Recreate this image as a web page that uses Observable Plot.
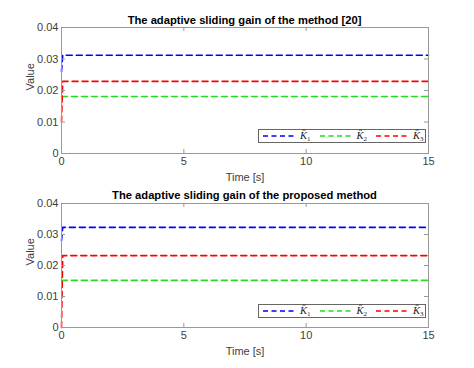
<!DOCTYPE html>
<html>
<head>
<meta charset="utf-8">
<script src="https://cdn.jsdelivr.net/npm/d3@7"></script>
<script src="https://cdn.jsdelivr.net/npm/@observablehq/plot@0.6"></script>
<style>
  body { margin: 0; background: #fff; font-family: "Liberation Sans", Arial, sans-serif; }
  #wrap { position: relative; width: 474px; height: 368px; }
  .panel { position: absolute; left: 0; width: 474px; }
  .title { position: absolute; left: 61px; width: 367px; text-align: center; font-weight: bold; font-size: 11.2px; color: #000; white-space: nowrap; }
  .legend { position: absolute; border: 1px solid #666; background: #fff; height: 14px; display: flex; align-items: center; font-family: "Liberation Serif", "DejaVu Serif", serif; font-style: italic; font-size: 10.5px; color: #222; padding: 0 3px; box-sizing: border-box; }
  .legend .item { display: flex; align-items: center; }
  .legend svg { margin-right: 2px; }
  .legend sub { font-style: normal; font-size: 7px; vertical-align: -2px; }
</style>
</head>
<body>
<div id="wrap"></div>
<script>
// ---- data ----
const seriesNames = ["K1", "K2", "K3"];
const seriesColors = ["#0000ff", "#22dd22", "#ff0000"];
const time = [0, 0.05, 15];

// top panel: method [20]
const topK1 = [0.026, 0.0312, 0.0312];
const topK2 = [0.018, 0.0181, 0.0181];
const topK3 = [0.010, 0.0229, 0.0229];

// bottom panel: proposed method
const botK1 = [0.028, 0.0323, 0.0323];
const botK2 = [0.015, 0.0152, 0.0152];
const botK3 = [0.000, 0.0232, 0.0232];

const xTicks = [0, 5, 10, 15];
const yTicks = [0, 0.01, 0.02, 0.03, 0.04];
const yTickLabels = ["0", "0.01", "0.02", "0.03", "0.04"];

const titles = ["The adaptive sliding gain of the method [20]", "The adaptive sliding gain of the proposed method"];

function rows(series) {
  const out = [];
  series.forEach((vals, si) => vals.forEach((v, i) => out.push({t: time[i], v, s: seriesNames[si]})));
  return out;
}

function panel(series, top, marginTop, marginBottom, titleTop, legendTop, title) {
  const W = 474, H = 184;
  const ml = 61, mr = 46;
  const pw = W - ml - mr, ph = H - marginTop - marginBottom;
  const data = rows(series);
  const axisColor = "#999";
  const textColor = "#404040";
  const plot = Plot.plot({
    width: W, height: H,
    marginLeft: ml, marginRight: mr, marginTop, marginBottom,
    style: {fontFamily: "Liberation Sans, Arial, sans-serif", fontSize: "11px", color: textColor, background: "transparent"},
    x: {domain: [0, 15]},
    y: {domain: [0, 0.04]},
    color: {domain: seriesNames, range: seriesColors},
    marks: [
      Plot.line(data, {x: "t", y: "v", z: "s", stroke: "s", strokeWidth: 1.6, strokeDasharray: "6,4", curve: "linear"}),
      Plot.frame({stroke: axisColor, strokeWidth: 1}),
      // inward ticks
      Plot.tickX(xTicks, {x: d => d, stroke: axisColor, insetTop: ph - 4}),
      Plot.tickX(xTicks, {x: d => d, stroke: axisColor, insetBottom: ph - 4}),
      Plot.tickY(yTicks, {y: d => d, stroke: axisColor, insetRight: pw - 4}),
      Plot.tickY(yTicks, {y: d => d, stroke: axisColor, insetLeft: pw - 4}),
      Plot.axisX(xTicks, {tickSize: 0, tickPadding: 4, fill: textColor, fontSize: 11, label: null}),
      Plot.axisY(yTicks, {tickSize: 0, tickPadding: 3, fill: textColor, fontSize: 11, label: null, tickFormat: (d) => yTickLabels[yTicks.indexOf(d)]}),
      Plot.text(["Time [s]"], {frameAnchor: "bottom", dy: 27, fill: textColor, fontSize: 11, text: d => d}),
      Plot.text(["Value"], {frameAnchor: "left", dx: -31, rotate: -90, fill: textColor, fontSize: 11, text: d => d})
    ]
  });
  const div = document.createElement("div");
  div.className = "panel";
  div.style.top = top + "px";
  div.appendChild(plot);
  const t = document.createElement("div");
  t.className = "title";
  t.style.top = titleTop + "px";
  t.textContent = title;
  div.appendChild(t);
  // legend
  const lg = document.createElement("div");
  lg.className = "legend";
  lg.style.left = "258px";
  lg.style.width = "168px";
  lg.style.top = legendTop + "px";
  seriesNames.forEach((n, i) => {
    const it = document.createElement("div");
    it.className = "item";
    it.innerHTML = `<svg width="36" height="6"><line x1="1" y1="3" x2="35" y2="3" stroke="${seriesColors[i]}" stroke-width="1.6" stroke-dasharray="5,3.5"/></svg><span>K\u0302<sub>${i + 1}</sub></span>`;
    it.style.marginRight = i < 2 ? "8px" : "0";
    lg.appendChild(it);
  });
  div.appendChild(lg);
  return div;
}

const wrap = document.getElementById("wrap");
wrap.appendChild(panel([topK1, topK2, topK3], 0, 27, 31, 14, 129, titles[0]));
wrap.appendChild(panel([botK1, botK2, botK3], 184, 19, 41, 5, 120, titles[1]));
</script>
</body>
</html>
